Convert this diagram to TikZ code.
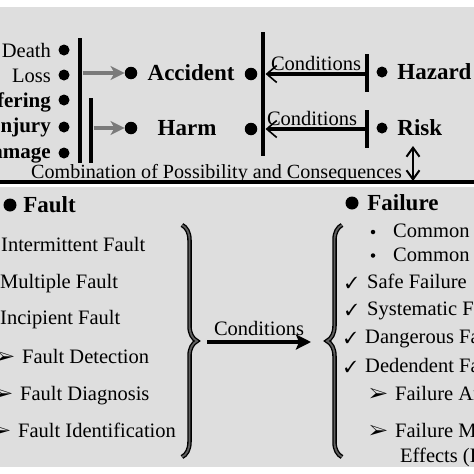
\documentclass[tikz,border=0pt]{standalone}
\usepackage{fontspec}
\setmainfont{Liberation Serif}
\usepackage{pifont}
\usetikzlibrary{
    positioning,
    arrows.meta,
    decorations.pathreplacing,
}
\definecolor{panel}{RGB}{222,222,222}
\definecolor{arrowgrey}{RGB}{122,122,122}
\definecolor{bracegrey}{RGB}{95,95,95}
\tikzset{
    txt/.style={font=\fontsize{20.5}{24}\selectfont, inner sep=0pt},
    txtb/.style={font=\fontsize{21}{24}\selectfont\bfseries, inner sep=0pt},
    term/.style={font=\fontsize{23}{26}\selectfont\bfseries, inner sep=0pt},
    sym/.style={font=\fontsize{16}{18}\selectfont, inner sep=0pt},
    pointer/.style={font=\fontsize{20}{22}\selectfont, inner sep=0pt},
    dot/.style={circle, fill, inner sep=0pt, minimum size=11pt},
    keydot/.style={dot, minimum size=12.5pt},
    bigdot/.style={dot, minimum size=13pt},
    smalldot/.style={dot, minimum size=4.5pt},
    bar/.style={line width=4.5pt},
    greyarrow/.style={draw=arrowgrey, line width=3.5pt, -{Stealth[length=14pt, width=14pt, inset=4pt]}},
    condarrow/.style={line width=4pt, -{Straight Barb[length=10pt, width=17pt, line width=1.6pt]}},
    bigarrow/.style={line width=3.5pt, -{Stealth[length=15pt, width=15pt, inset=3pt]}},
    dblarrow/.style={line width=2.5pt, {Straight Barb[length=9pt, width=13pt, line width=2pt]}-{Straight Barb[length=9pt, width=13pt, line width=2pt]}},
    braceout/.style={decorate, decoration={brace, amplitude=15pt}, draw=black, line width=4.5pt},
    bracein/.style={decorate, decoration={brace, amplitude=15pt}, draw=bracegrey, line width=1.8pt},
}

\begin{document}
\begin{tikzpicture}[x=1pt, y=-1pt]
    \useasboundingbox (0,0) rectangle (474,474);
    \clip (0,0) rectangle (474,474);

    % background and separator
    \fill[panel] (0,7) rectangle (474,467);
    \fill[white] (0,183.5) rectangle (474,187);
    \draw[line width=4pt] (0,181.5) -- (474,181.5);

    % ===== TOP: CONSEQUENCES =====
    \node[dot] (ddeath) at (64,50) {};
    \node[dot] (dloss) at (64,75) {};
    \node[dot] (dsuffer) at (64,100) {};
    \node[dot] (dinjury) at (64,127) {};
    \node[dot] (ddamage) at (64,153) {};

    \node[txt, anchor=base east] (death) at (51,57) {Death};
    \node[txt, anchor=base east] (loss) at (51,82) {Loss};
    \node[txtb, anchor=base east] (suffer) at (51,107) {Suffering};
    \node[txtb, anchor=base east] (injury) at (51,132.5) {Injury};
    \node[txtb, anchor=base east] (damage) at (51,158) {Damage};

    \coordinate (bar1t) at (80,38);
    \coordinate (bar1b) at (80,163);
    \coordinate (bar2t) at (91,98);
    \coordinate (bar2b) at (91,163);

    \node[keydot] (dacc) at (131,73) {};
    \node[term, right=10pt of dacc] (accident) {Accident};
    \node[keydot] (dharm) at (131,128) {};
    \node[term, right=20pt of dharm] (harm) {Harm};

    \node[keydot] (dacc2) at (251,74) {};
    \node[keydot] (dharm2) at (251,129) {};
    \coordinate (bar3t) at (263,32);
    \coordinate (bar3b) at (263,156);

    \coordinate (tail1t) at (367,54);
    \coordinate (tail1b) at (367,92);
    \coordinate (tail2t) at (367,110);
    \coordinate (tail2b) at (367,148);

    \node[dot] (dhazard) at (382,72) {};
    \node[term, right=9.5pt of dhazard] (hazard) {Hazard};
    \node[dot] (drisk) at (382,128) {};
    \node[term, right=9.5pt of drisk] (risk) {Risk};

    \node[txt, anchor=base] (cond1) at (316,70) {Conditions};
    \node[txt, anchor=base] (cond2) at (312,125) {Conditions};

    \node[txt, anchor=base west, font=\fontsize{20.1}{24}\selectfont] (combo) at (31,178) {Combination of Possibility and Consequences};
    \coordinate (riskfoot) at (413,146);
    \coordinate (sepmark) at (413,181);

    % ===== BOTTOM: FAULT AND FAILURE =====
    \node[bigdot] (dfault) at (10,205) {};
    \node[term, right=6.5pt of dfault] (fault) {Fault};
    \node[txt, anchor=base west] (intermit) at (1,251.5) {Intermittent Fault};
    \node[txt, anchor=base west] (multiple) at (0,288) {Multiple Fault};
    \node[txt, anchor=base west] (incip) at (0,324.5) {Incipient Fault};
    \node[pointer, anchor=base east] (adetect) at (15,363) {\ding{226}};
    \node[txt, anchor=base west] (detect) at (22,363) {Fault Detection};
    \node[pointer, anchor=base east] (adiag) at (13,400) {\ding{226}};
    \node[txt, anchor=base west] (diag) at (20,400) {Fault Diagnosis};
    \node[pointer, anchor=base east] (aident) at (11,437) {\ding{226}};
    \node[txt, anchor=base west] (ident) at (18,437) {Fault Identification};

    \coordinate (fbrt) at (182,225);
    \coordinate (fbrb) at (182,457);
    \coordinate (ftip) at (197,342);
    \coordinate (gtip) at (327,342);
    \coordinate (gbrt) at (342,225);
    \coordinate (gbrb) at (342,457);
    \node[txt, anchor=base] (cond3) at (259,335) {Conditions};

    \node[bigdot] (dfailure) at (352,203) {};
    \node[term, right=8.5pt of dfailure] (failure) {Failure};
    \node[smalldot] (dccf) at (373,232) {};
    \node[txt, anchor=base west] (ccf) at (393,237) {Common Cause Failure};
    \node[smalldot] (dcmf) at (373,255.5) {};
    \node[txt, anchor=base west] (cmf) at (393,261) {Common Mode Failure};
    \node[sym, anchor=base east] (ksafe) at (358,288) {\ding{51}};
    \node[txt, anchor=base west] (safe) at (367,288) {Safe Failure};
    \node[sym, anchor=base east] (ksyst) at (358,315.5) {\ding{51}};
    \node[txt, anchor=base west] (syst) at (367,315.5) {Systematic Failure};
    \node[sym, anchor=base east] (kdang) at (357,343) {\ding{51}};
    \node[txt, anchor=base west] (dang) at (365,343) {Dangerous Failure};
    \node[sym, anchor=base east] (kdep) at (357,372) {\ding{51}};
    \node[txt, anchor=base west] (dep) at (365,372) {Dedendent Failure};
    \node[pointer, anchor=base east] (afa) at (388,400) {\ding{226}};
    \node[txt, anchor=base west] (fa) at (395,400) {Failure Analysis};
    \node[pointer, anchor=base east] (afm) at (388,437) {\ding{226}};
    \node[txt, anchor=base west] (fm) at (395,437) {Failure Mode and};
    \node[txt, anchor=base west] (fme) at (400,462) {Effects (FMEA)};

    % ===== DRAW ALL CONNECTIONS =====
    \draw[bar] (bar1t) -- (bar1b);
    \draw[bar] (bar2t) -- (bar2b);
    \draw[bar] (bar3t) -- (bar3b);
    \draw[bar, line width=4pt] (tail1t) -- (tail1b);
    \draw[bar, line width=4pt] (tail2t) -- (tail2b);

    \draw[greyarrow, shorten <=2.5pt] (bar1t |- dacc) -- (dacc);
    \draw[greyarrow, shorten <=2.5pt] (bar2t |- dharm) -- (dharm);

    \draw[condarrow, shorten >=2.5pt] (tail1t |- dacc2) -- (bar3t |- dacc2);
    \draw[condarrow, shorten >=2.5pt] (tail2t |- dharm2) -- (bar3t |- dharm2);

    \draw[dblarrow] (riskfoot) -- (sepmark);

    \draw[braceout] (fbrt) -- (fbrb);
    \draw[bracein] (fbrt) -- (fbrb);
    \draw[braceout] (gbrb) -- (gbrt);
    \draw[bracein] (gbrb) -- (gbrt);
    \draw[bigarrow, shorten <=10pt, shorten >=16pt] (ftip) -- (gtip);

\end{tikzpicture}
\end{document}
